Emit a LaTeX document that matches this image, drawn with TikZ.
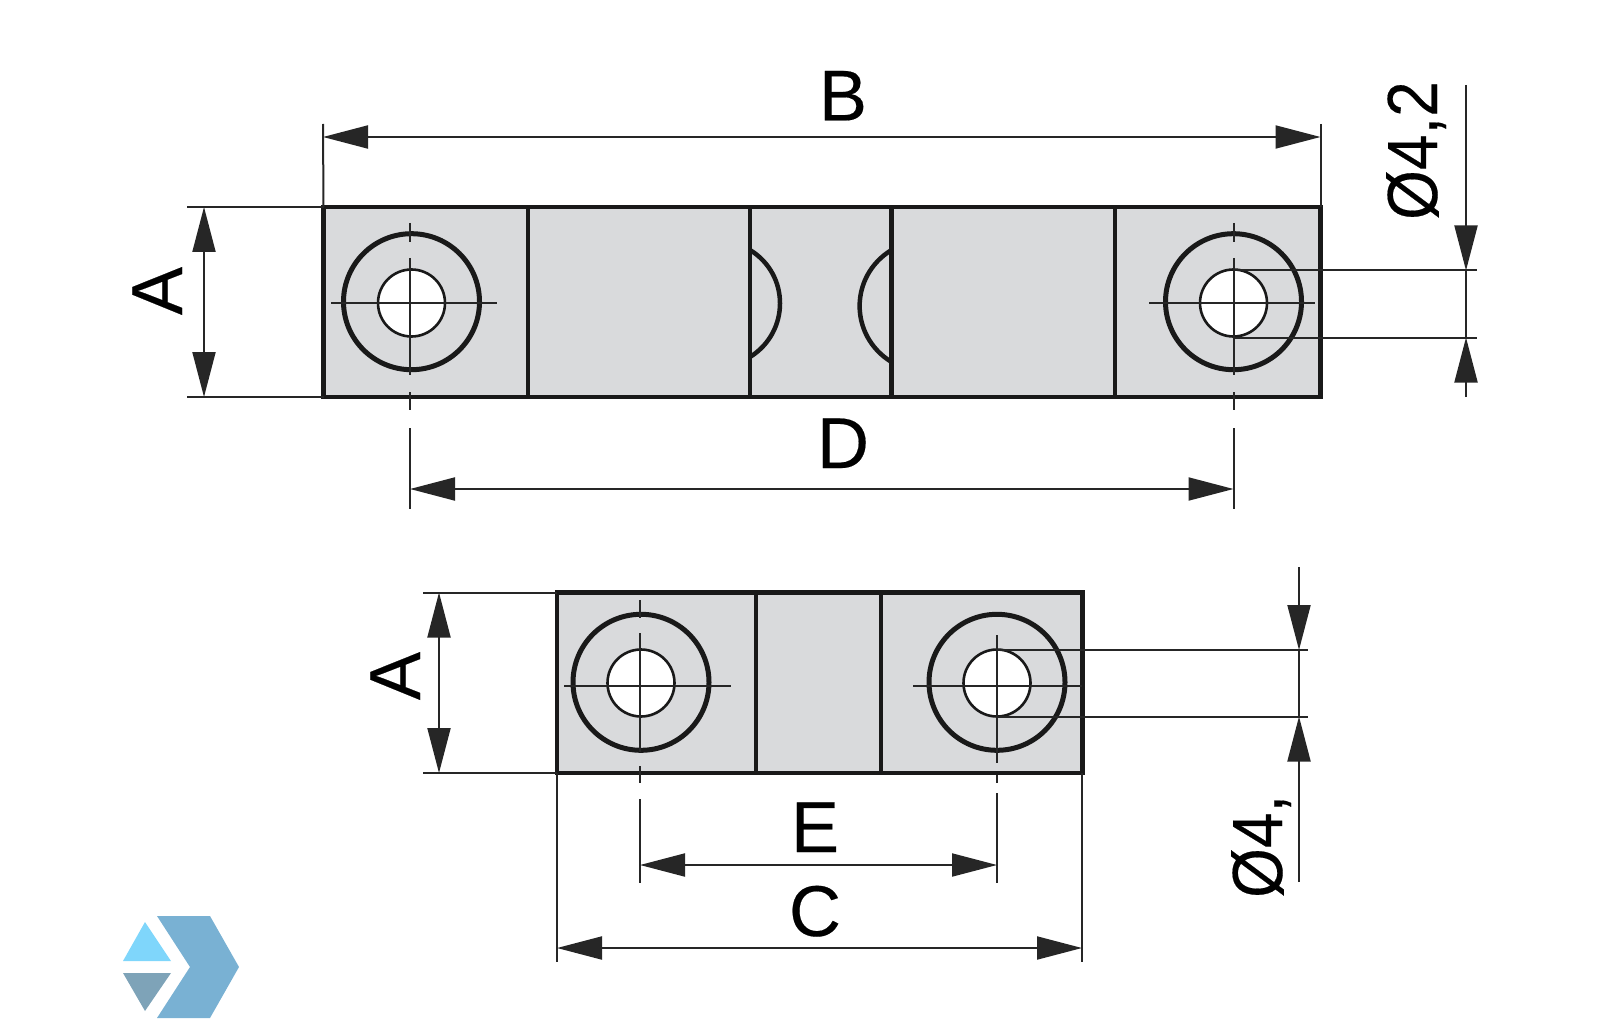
\documentclass[tikz,border=0pt]{standalone}
\usepackage{fontspec}
\setmainfont{Liberation Sans}[FakeBold=0.25]
\usetikzlibrary{arrows.meta}

\definecolor{bodygray}{HTML}{D9DADC}
\definecolor{logochev}{HTML}{79B1D3}
\definecolor{logotop}{HTML}{7FD6FB}
\definecolor{logobot}{HTML}{7EA3B8}

\begin{document}
\begin{tikzpicture}[x=1pt,y=-1pt,>={Triangle[length=45pt,width=23pt]},
    outline/.style={draw=black!90,line width=4.5pt,fill=bodygray,line join=miter},
    part line/.style={draw=black!90,line width=4.5pt},
    ring/.style={draw=black!90,line width=5pt},
    hole/.style={draw=black!90,line width=2.6pt,fill=white},
    thin line/.style={draw=black!85,line width=2pt},
    label text/.style={font=\fontsize{72}{72}\selectfont,inner sep=0pt},
    size text/.style={font=\fontsize{71}{71}\selectfont,inner sep=0pt}]
      \useasboundingbox (0,0) rectangle (1608,1032);

      % upper body
      \coordinate (tl) at (323.5,207);
      \coordinate (tr) at (1320.5,207);
      \coordinate (bl) at (323.5,397);
      \coordinate (br) at (1320.5,397);
      \draw[outline] (tl) rectangle (br);
      \foreach \x in {528, 750, 891.5, 1115}
        \draw[part line] (\x,207) -- (\x,397);
      \draw[part line] (750,250) .. controls (790,274.5) and (790,332) .. (750,357);
      \draw[part line] (891.5,250) .. controls (849,276) and (849,336) .. (891.5,362);

      % lower body
      \coordinate (ltl) at (557,592.5);
      \coordinate (lbr) at (1082.5,773);
      \draw[outline] (ltl) rectangle (lbr);
      \foreach \x in {756, 881}
        \draw[part line] (\x,592.5) -- (\x,773);

      % holes
      \foreach \n/\x/\y/\ry in {ua/411.5/303/301.7, ub/1233.5/303/301.7, la/641/683/682.3, lb/997/683/682.3} {
        \coordinate (\n) at (\x,\y);
        \draw[ring] (\x,\ry) circle (68);
      }
      \foreach \n in {ua, ub, la, lb}
        \draw[hole] (\n) circle (33.5);

      % centre lines
      \draw[thin line] (331,303) -- (497,303);
      \draw[thin line] (1149,303) -- (1315,303);
      \draw[thin line] (564,685.5) -- (731,685.5);
      \draw[thin line] (913,685.5) -- (1082,685.5);
      \foreach \x in {410, 1233.5} {
        \draw[thin line] (\x,223) -- (\x,242);
        \draw[thin line] (\x,258) -- (\x,375);
        \draw[thin line] (\x,392) -- (\x,410);
        \draw[thin line] (\x,428) -- (\x,509);
      }
      \draw[thin line] (640,600) -- (640,618);
      \draw[thin line] (640,633) -- (640,752);
      \draw[thin line] (640,766) -- (640,783);
      \draw[thin line] (640,799) -- (640,883);
      \draw[thin line] (997,635) -- (997,763);
      \draw[thin line] (997,775) -- (997,783);
      \draw[thin line] (997,793) -- (997,883);

      % extension lines
      \draw[thin line] (323,124) -- (tl);
      \draw[thin line] (1320.5,124) -- (tr);
      \draw[thin line] (187,207) -- (tl);
      \draw[thin line] (187,397) -- (bl);
      \draw[thin line] (ub)++(0,-33) -- (1477,270);
      \draw[thin line] (ub)++(0,34.5) -- (1477,337.5);
      \draw[thin line] (423,592.5) -- (ltl);
      \draw[thin line] (423,773) -- (557,773);
      \draw[thin line] (557,773) -- (557,962);
      \draw[thin line] (1082,773) -- (1082,962);
      \draw[thin line] (lb)++(0,-33) -- (1308,650);
      \draw[thin line] (lb)++(0,33.5) -- (1308,716.5);

      % dimensions
      \coordinate (bx) at (323,137);
      \coordinate (by) at (1320.5,137);
      \draw[thin line,<->] (bx) -- (by);
      \coordinate (dx) at (410,489);
      \coordinate (dy) at (1233.5,489);
      \draw[thin line,<->] (dx) -- (dy);
      \coordinate (ex) at (640,865);
      \coordinate (ey) at (997,865);
      \draw[thin line,<->] (ex) -- (ey);
      \coordinate (cx) at (557,948);
      \coordinate (cy) at (1082,948);
      \draw[thin line,<->] (cx) -- (cy);
      \draw[thin line,<->] (204,207) -- (204,397);
      \draw[thin line,<->] (439,592.5) -- (439,773);
      \draw[thin line] (1466,337.5) -- (1466,270.5);
      \draw[thin line,->] (1466,85) -- (1466,270.5);
      \draw[thin line,->] (1466,397) -- (1466,337.5);
      \draw[thin line] (1299,716.5) -- (1299,650);
      \draw[thin line,->] (1299,567) -- (1299,650);
      \draw[thin line,->] (1299,882) -- (1299,716.5);

      % labels
      \node[label text,anchor=base] (lb-b) at (843,120.5) {B};
      \node[label text,anchor=base] (lb-d) at (843,468) {D};
      \node[label text,anchor=base] (lb-e) at (815,852) {E};
      \node[label text,anchor=base] (lb-c) at (815,936) {C};
      \node[label text,anchor=base,rotate=90] (lb-a1) at (182,291) {A};
      \node[label text,anchor=base,rotate=90] (lb-a2) at (420,676) {A};
      \node[size text,anchor=base west,rotate=90,xscale=0.9] (lb-o1) at (1437,220) {Ø4,2};
      \begin{scope}
        \clip (1200,794) rectangle (1300,900);
        \node[size text,anchor=base west,rotate=90,xscale=0.9] (lb-o2) at (1282,898) {Ø4,};
      \end{scope}

      % logo
      \fill[logochev] (157,916) -- (210,916) -- (239,967) -- (210,1018) -- (157,1018) -- (190,967) -- cycle;
      \fill[logotop] (145,922) -- (171,961) -- (123,961) -- cycle;
      \fill[logobot] (123,973) -- (171,973) -- (145,1011) -- cycle;
    \end{tikzpicture}
\end{document}
